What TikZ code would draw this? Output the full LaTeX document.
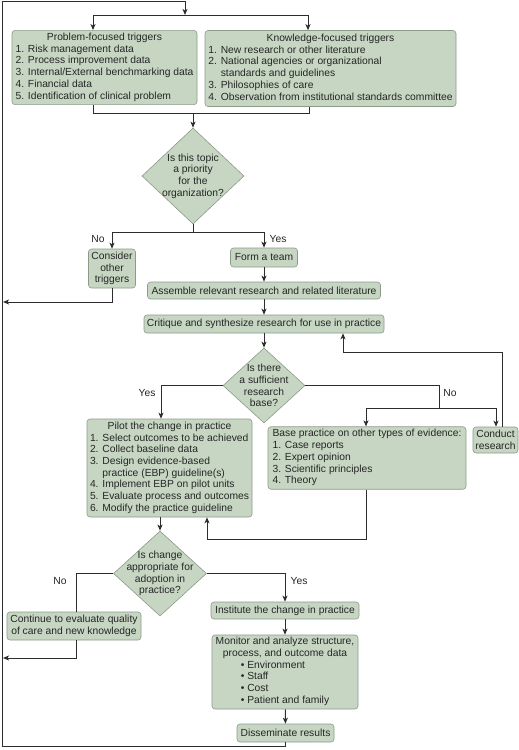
\documentclass[tikz,border=0pt]{standalone}
\usepackage{fontspec}
\setmainfont{Liberation Sans}
\usepackage{xcolor}
\usetikzlibrary{shapes.geometric,arrows.meta}
\definecolor{boxfill}{RGB}{198,214,194}
\definecolor{boxline}{RGB}{138,156,135}
\definecolor{wire}{RGB}{45,45,45}
\newcommand{\hd}[1]{\multicolumn{1}{@{}c@{}}{#1}}

\begin{document}
\begin{tikzpicture}[x=1pt,y=-1pt,
  every node/.style={font=\fontsize{10.3}{11.7}\selectfont, text=black!85},
  box/.style={draw=boxline, fill=boxfill, rounded corners=3pt, inner sep=2pt, align=center, line width=0.6pt},
  decision/.style={draw=boxline, fill=boxfill, shape=diamond, align=center, line width=0.6pt},
  conn/.style={draw=wire, line width=1pt},
  arr/.style={conn, -{Stealth[length=6pt,width=5pt,inset=1.5pt]}}]
\useasboundingbox (0,0) rectangle (519,750);

% triggers
\node[box, minimum width=185pt, minimum height=74pt](prob) at (104.5,67.5){\begin{tabular}{@{}l@{}}
\hd{Problem-focused triggers}\\
1. Risk management data\\
2. Process improvement data\\
3. Internal/External benchmarking data\\
4. Financial data\\
5. Identification of clinical problem
\end{tabular}};
\node[box, minimum width=251pt, minimum height=76pt](know) at (330.5,68.5){\begin{tabular}{@{}l@{}}
\hd{Knowledge-focused triggers}\\
1. New research or other literature\\
2. National agencies or organizational\\
\phantom{2. }standards and guidelines\\
3. Philosophies of care\\
4. Observation from institutional standards committee
\end{tabular}};

% first decision
\node[decision, inner sep=-2pt, aspect=1.06, minimum width=102pt, minimum height=96pt](q1) at (193,176){Is this topic\\a priority\\for the\\organization?};
\node[box, minimum width=47pt, minimum height=39pt](other) at (112,268.5){Consider\\other\\triggers};
\node[box, minimum width=67pt, minimum height=19pt](team) at (264,257.5){Form a team};
\node[box, minimum width=233pt, minimum height=17pt](assemble) at (264,290.5){Assemble relevant research and related literature};
\node[box, minimum width=240pt, minimum height=18pt](critique) at (264,324){Critique and synthesize research for use in practice};

% second decision
\node[decision, inner sep=-3.8pt, aspect=1.09, minimum width=82pt, minimum height=75pt](q2) at (264,385.5){Is there\\a sufficient\\research\\base?};
\node[box, minimum width=165pt, minimum height=98pt](pilot) at (169.5,468){\begin{tabular}{@{}l@{}}
\hd{Pilot the change in practice}\\
1. Select outcomes to be achieved\\
2. Collect baseline data\\
3. Design evidence-based\\
\phantom{3. }practice (EBP) guideline(s)\\
4. Implement EBP on pilot units\\
5. Evaluate process and outcomes\\
6. Modify the practice guideline
\end{tabular}};
\node[box, minimum width=198pt, minimum height=62pt](base) at (367,458){\begin{tabular}{@{}l@{}}
Base practice on other types of evidence:\\
1. Case reports\\
2. Expert opinion\\
3. Scientific principles\\
4. Theory
\end{tabular}};
\node[box, minimum width=45pt, minimum height=26pt](conduct) at (495.5,440){Conduct\\research};

% third decision
\node[decision, inner sep=-5.5pt, aspect=1.09, minimum width=93pt, minimum height=85pt](q3) at (160,573.5){Is change\\appropriate for\\adoption in\\practice?};
\node[box, minimum width=134pt, minimum height=28pt](cont) at (74,626){Continue to evaluate quality\\of care and new knowledge};
\node[box, minimum width=148pt, minimum height=17pt](inst) at (285,610.5){Institute the change in practice};
\node[box, minimum width=146pt, minimum height=74pt](monitor) at (285,672){Monitor and analyze structure,\\process, and outcome data\\\begin{tabular}[t]{@{}l@{}}
\textbullet\ Environment\\
\textbullet\ Staff\\
\textbullet\ Cost\\
\textbullet\ Patient and family
\end{tabular}};
\node[box, minimum width=97pt, minimum height=18pt](dissem) at (285.5,733){Disseminate results};

% branch labels
\node (no1) at (98,239){No};
\node (yes1) at (278,239){Yes};
\node (yes2) at (147,393){Yes};
\node (no2) at (450,393){No};
\node (no3) at (60,581){No};
\node (yes3) at (299,581){Yes};

% bend points
\coordinate (tl) at (2,1);
\coordinate (tin) at (185,1);
\coordinate (tj) at (185,15);
\coordinate (tjl) at (93,15);
\coordinate (tjr) at (308,15);
\coordinate (bl) at (2,746);
\coordinate (ml) at (93,113);
\coordinate (mr) at (309,113);
\coordinate (q1l) at (112,232);
\coordinate (q1r) at (264,232);
\coordinate (oe) at (3,302);
\coordinate (q2n) at (439,408);
\coordinate (nl) at (366,408);
\coordinate (nr) at (496,408);
\coordinate (cr) at (502,352);
\coordinate (cl) at (343,352);
\coordinate (q2y) at (161,387);
\coordinate (bb) at (207,539);
\coordinate (q3n) at (76,573.5);
\coordinate (ce) at (3,658);

% outer loop
\draw[arr] (dissem.south) -- (dissem.south |- bl) -- (bl) -- (tl) -- (tin) -- (tj);
\draw[conn] (tjl) -- (tjr);
\draw[arr] (tjl) -- (prob.north -| tjl);
\draw[arr] (tjr) -- (know.north -| tjr);
\draw[conn] (prob.south -| ml) -- (ml) -- (mr) -- (know.south -| mr);
\draw[arr] (q1.north |- ml) -- (q1.north);

% topic priority
\draw[conn] (q1.south) -- (q1.south |- q1l);
\draw[conn] (q1l) -- (q1r);
\draw[arr] (q1l) -- (other.north);
\draw[arr] (q1r) -- (team.north);
\draw[arr] (other.south) -- (other.south |- oe) -- (oe);
\draw[arr] (team) -- (assemble);
\draw[arr] (assemble) -- (critique);
\draw[arr] (critique) -- (q2);

% research base
\draw[conn] (q2.east) -| (q2n);
\draw[conn] (nl) -- (nr);
\draw[arr] (nl) -- (base.north -| nl);
\draw[arr] (nr) -- (conduct.north -| nr);
\draw[arr] (conduct.north -| cr) -- (cr) -- (cl) -- (critique.south -| cl);
\draw[arr] (q2.west) -| (pilot.north -| q2y);
\draw[arr] (base.south -| nl) -- (nl |- bb) -- (bb) -- (pilot.south -| bb);
\draw[arr] (pilot.south -| q3.north) -- (q3.north);

% adoption
\draw[conn] (q3.west) -- (q3n) -- (cont.north -| q3n);
\draw[arr] (cont.south -| q3n) -- (q3n |- ce) -- (ce);
\draw[arr] (q3.east) -| (inst.north);
\draw[arr] (inst) -- (monitor);
\draw[arr] (monitor) -- (dissem);
\end{tikzpicture}
\end{document}
